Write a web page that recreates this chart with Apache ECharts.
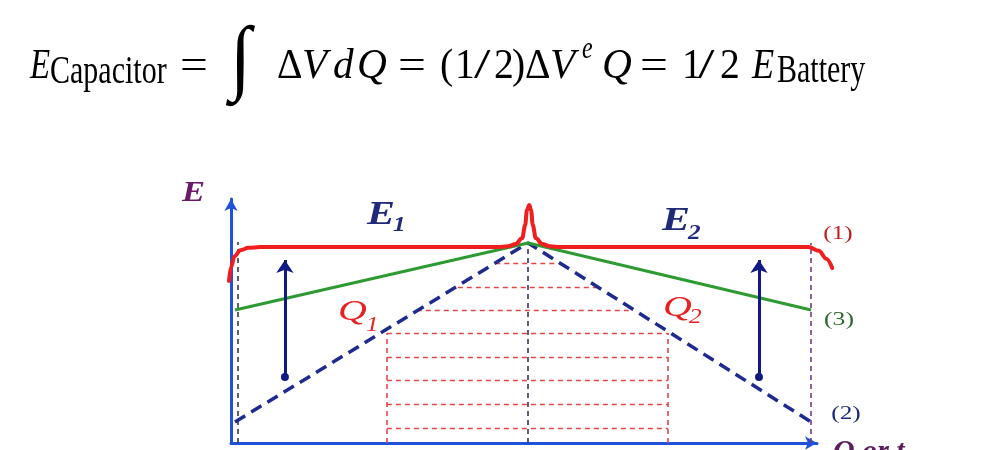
<!DOCTYPE html>
<html><head><meta charset="utf-8">
<script src="https://cdn.jsdelivr.net/npm/echarts@6/dist/echarts.min.js"></script>
<style>html,body{margin:0;padding:0;background:#fff}#c{width:992px;height:450px}</style>
</head><body><div id="c"></div>
<script>
// ---- data (x: 0..100 along Q/t axis, y: 0..100 along E axis) ----
const redCurve = [
  [-0.34,66.4],[0.0,72.0],[0.6,76.5],[1.6,79.0],[3.0,80.0],[5.0,80.3],
  [45.5,80.3],[47.3,80.6],[48.6,81.6],[49.7,84.0],[50.2,89.3],[50.5,95.5],[50.9,97.5],
  [51.2,95.5],[51.5,89.3],[52.0,84.0],[53.1,81.6],[54.4,80.6],[56.2,80.3],
  [98.6,80.3],[100.3,78.8],[101.6,75.5],[102.6,71.7]
];
const greenLine = [[0.68,54.5],[50.7,82.0],[99.0,54.5]];
const blueDashed = [[0.68,8.6],[50.7,82.0],[99.0,8.6]];
const rowY = [73.8, 63.9, 54.5, 45.1, 35.2, 25.8, 16.0, 6.1];
const rowStart = [45.1, 38.7, 31.7, 26.6, 26.6, 26.6, 26.6, 26.6];
const rowEnd = [55.8, 62.5, 68.6, 74.6, 74.6, 74.6, 74.6, 74.6];
const vX = [1.19, 50.7, 99.0, 26.6, 74.6];
const vTop = [82.4, 82.0, 82.0, 45.1, 45.1];
const vColor = ['#34344a', '#3e2e62', '#6c3a8e', '#e04848', '#e04848'];
const arrowX = [9.2, 90.1];
const arrowFrom = 27.0;
const arrowTo = 75.0;

const rowSegs = rowY.map((y, i) => ({coords: [[rowStart[i], y], [rowEnd[i], y]]}));
const vSegs = vX.map((x, i) => ({coords: [[x, 0], [x, vTop[i]]], lineStyle: {color: vColor[i]}}));
const arrowSegs = arrowX.map(x => ({coords: [[x, arrowFrom], [x, arrowTo]]}));

// ---- text helper ----
function T(text, x, base, size, o) {
  o = o || {};
  const sy = o.sy || 1, sx = o.sx || 1;
  return {
    type: 'text', x: x, y: base - 0.3375 * size * sy, scaleX: sx, scaleY: sy, z: 100, silent: true,
    style: {
      text: text, fontFamily: o.family || '"Liberation Serif", "Times New Roman", serif',
      fontSize: size, fontStyle: o.italic ? 'italic' : 'normal', fontWeight: o.bold ? 'bold' : 'normal',
      fill: o.color || '#000', align: o.align || 'left', verticalAlign: 'middle'
    }
  };
}
const SY = 1.3;
const eqS = {sy: SY};
const eqW = {sy: SY, sx: 1.2};
const eqI = {sy: SY, italic: true};
const eqIW = {sy: SY, sx: 1.25, italic: true};
const eqEq = {sy: SY, sx: 1.5};
const eqSl = {sy: SY, sx: 1.8};
const graphics = [
  T('E', 30, 81, 33, eqI),
  T('Capacitor', 50, 86, 30, eqS),
  T('=', 180, 81, 33, eqEq),
  T('\u222B', 230, 90, 64, {sy: SY, sx: 1.2, italic: true}),
  T('\u0394', 277, 81, 33, eqW),
  T('V', 302, 81, 33, eqIW),
  T('d', 333, 81, 33, eqIW),
  T('Q', 357, 81, 33, eqIW),
  T('=', 398, 81, 33, eqEq),
  T('(', 440, 81, 33, eqW),
  T('1', 455, 81, 33, eqW),
  T('/', 474, 81, 33, eqSl),
  T('2', 494, 81, 33, eqW),
  T(')', 512, 81, 33, eqW),
  T('\u0394', 525, 81, 33, eqW),
  T('V', 550, 81, 33, eqIW),
  T('e', 582, 60, 24, eqI),
  T('Q', 602, 81, 33, eqIW),
  T('=', 640, 81, 33, eqEq),
  T('1', 682, 81, 33, eqW),
  T('/', 698, 81, 33, eqSl),
  T('2', 720, 81, 33, eqW),
  T('E', 752, 81, 33, {sy: SY, sx: 1.1, italic: true}),
  T('Battery', 777, 85, 30, eqS),
  // diagram labels
  T('E', 182, 203, 30, {italic: true, bold: true, color: '#6b1a6b', sx: 1.15}),
  T('E', 367, 227, 33, {italic: true, bold: true, color: '#1f2a7a', sx: 1.27}),
  T('1', 393, 233, 21, {italic: true, bold: true, color: '#1f2a7a', sx: 1.2}),
  T('E', 662, 233, 33, {italic: true, bold: true, color: '#1f2a7a', sx: 1.27}),
  T('2', 688, 241, 21, {italic: true, bold: true, color: '#1f2a7a', sx: 1.2}),
  T('Q', 338, 322, 30, {italic: true, color: '#e82020', sx: 1.33}),
  T('1', 366, 333, 21, {italic: true, color: '#e82020', sx: 1.2}),
  T('Q', 663, 318, 30, {italic: true, color: '#e82020', sx: 1.33}),
  T('2', 689, 325, 21, {italic: true, color: '#e82020', sx: 1.2}),
  T('(1)', 838, 240, 18, {color: '#c42020', sx: 1.4, align: 'center'}),
  T('(3)', 839, 326, 19, {color: '#2c6a2c', sx: 1.35, align: 'center'}),
  T('(2)', 846, 420, 18, {color: '#1c2a7a', sx: 1.4, align: 'center'}),
  T('Q or t', 833, 462, 30, {italic: true, bold: true, color: '#5c1f5c', sx: 1.0})
];

const PX_PER_UNIT = 586 / 100;   // grid 0 scale, reused so grid 1 has identical units
const axisCommon = {
  type: 'value', min: 0, max: 100,
  axisLine: {show: true, onZero: false, symbol: ['none', 'arrow'], symbolSize: [10, 12],
    lineStyle: {color: '#1f52dc', width: 3}},
  axisTick: {show: false}, axisLabel: {show: false}, splitLine: {show: false}
};
const hiddenAxis = {type: 'value', show: false, axisLine: {show: false}, axisTick: {show: false},
  axisLabel: {show: false}, splitLine: {show: false}};

const chart = echarts.init(document.getElementById('c'));
chart.setOption({
  animation: false,
  backgroundColor: '#fff',
  grid: [
    {left: 231, right: 175, top: 199, bottom: 7, containLabel: false, outerBoundsMode: 'none'},
    // wider overlay grid with same units, so the red curve can run past the axis ends
    {left: 211, right: 131, top: 199, bottom: 7, containLabel: false, outerBoundsMode: 'none'}
  ],
  xAxis: [
    Object.assign({}, axisCommon, {gridIndex: 0}),
    Object.assign({}, hiddenAxis, {gridIndex: 1, min: -20 / PX_PER_UNIT, max: 100 + 44 / PX_PER_UNIT})
  ],
  yAxis: [
    Object.assign({}, axisCommon, {gridIndex: 0}),
    Object.assign({}, hiddenAxis, {gridIndex: 1, min: 0, max: 100})
  ],
  graphic: graphics,
  series: [
    {type: 'lines', coordinateSystem: 'cartesian2d', silent: true, z: 2, data: rowSegs,
      lineStyle: {color: '#e04848', width: 1.3, type: [5, 4], opacity: 1}},
    {type: 'lines', coordinateSystem: 'cartesian2d', silent: true, z: 2, data: vSegs,
      lineStyle: {width: 1.6, type: [5, 4], opacity: 1}},
    {type: 'line', data: blueDashed, symbol: 'none', z: 3, silent: true,
      lineStyle: {color: '#1f2a8f', width: 3.5, type: [12, 7]}},
    {type: 'line', data: greenLine, symbol: 'none', z: 4, silent: true,
      lineStyle: {color: '#2e9a32', width: 3}},
    {type: 'line', xAxisIndex: 1, yAxisIndex: 1, data: redCurve, symbol: 'none', clip: false, z: 5, silent: true,
      smooth: 0.35, smoothMonotone: 'x',
      lineStyle: {color: '#f01e1e', width: 4, cap: 'round', join: 'round'}},
    {type: 'lines', coordinateSystem: 'cartesian2d', silent: true, z: 6, data: arrowSegs,
      symbol: ['circle', 'arrow'], symbolSize: [8, 13],
      lineStyle: {color: '#0e1a82', width: 3, opacity: 1}}
  ]
});
</script></body></html>
